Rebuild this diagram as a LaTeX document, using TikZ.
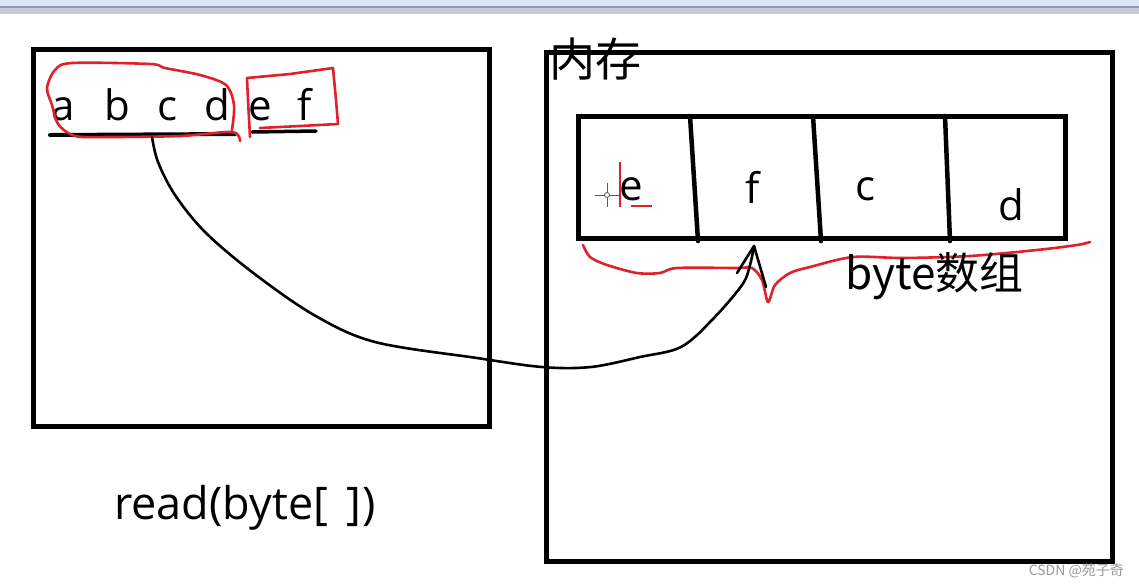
\documentclass[tikz,border=0pt]{standalone}
\usepackage{fontspec}
\usetikzlibrary{calc}
\setmainfont{Open Sans}
\newfontfamily\cjk{Noto Sans CJK SC}
\definecolor{redpen}{HTML}{E0202A}
\definecolor{barblue}{HTML}{DCE6F4}
\definecolor{bargray}{HTML}{C4CCDA}
\definecolor{barline}{HTML}{8E99A8}
\begin{document}
\begin{tikzpicture}[x=1pt,y=-1pt,
  box/.style={draw=black,line width=5pt,inner sep=0pt,outer sep=0pt,anchor=north west},
  ltr/.style={font=\fontsize{42}{48}\selectfont,inner sep=0pt,anchor=base},
  pen/.style={line width=2.6pt,line cap=round,line join=round},
  redline/.style={pen,draw=redpen},
  blackline/.style={pen,draw=black}]
\useasboundingbox (0,0) rectangle (1139,587);
\fill[white] (0,0) rectangle (1139,587);
% top bar
\fill[barblue] (0,0) rectangle (1139,6);
\fill[bargray] (0,7) rectangle (1139,14);
\fill[barline] (0,6) rectangle (1139,7.5);
% boxes
\node[box,minimum width=456pt,minimum height=377pt] (left) at (33,49) {};
\node[box,minimum width=566pt,minimum height=509pt] (right) at (546,52) {};
\node[box,minimum width=487pt,minimum height=122pt] (arr) at (578,116) {};
% dividers
\coordinate (d1t) at (690,116); \coordinate (d1b) at (698,241);
\coordinate (d2t) at (813,116); \coordinate (d2b) at (821,241);
\coordinate (d3t) at (945,116); \coordinate (d3b) at (950,241);
\draw[line width=4.5pt,line cap=round] (d1t) -- (d1b);
\draw[line width=4.5pt,line cap=round] (d2t) -- (d2b);
\draw[line width=4.5pt,line cap=round] (d3t) -- (d3b);
% letters in left box
\node[ltr] (la) at (63,120) {a};
\node[ltr] (lb) at (117,120) {b};
\node[ltr] (lc) at (167,120) {c};
\node[ltr] (ld) at (217,120) {d};
\node[ltr] (le) at (260,120) {e};
\node[ltr] (lf) at (305,120) {f};
% underlines
\coordinate (u1a) at (50,135); \coordinate (u1b) at (235,134);
\coordinate (u2a) at (252,132); \coordinate (u2b) at (316,131);
\draw[line width=4pt,line cap=round] (u1a) -- (u1b);
\draw[line width=3.5pt,line cap=round] (u2a) -- (u2b);
% red loops
\draw[redline] plot[smooth,tension=0.5] coordinates {(240,141) (232,132) (180,136) (110,137) (75,136) (58,124) (52,105) (47,88) (55,70) (72,63) (150,64) (165,68) (200,75) (226,85) (234,105) (232,130)};
\draw[redline] (250,137) -- (248,100) -- (247,78) -- (290,74) -- (333,68) -- (336,100) -- (338,124) -- (300,126) -- (260,128);
% array letters
\node[ltr] (ae) at (631,200) {e};
\node[ltr] (af) at (753,203) {f};
\node[ltr] (ac) at (865,200) {c};
\node[ltr] (ad) at (1011,220) {d};
% cursor
\coordinate (cur) at (607,195);
\draw[gray!70!black,line width=1pt] ($(cur)+(-12,0)$) -- ($(cur)+(12,0)$) ($(cur)+(0,-12)$) -- ($(cur)+(0,12)$);
\draw[gray!70!black,fill=white,line width=0.8pt] (cur) circle (2.5);
\coordinate (rc1) at (620,162); \coordinate (rc2) at (620,207);
\draw[redpen,line width=2.5pt] (rc1) -- (rc2);
\coordinate (ru1) at (631,206); \coordinate (ru2) at (652,206);
\draw[redpen,line width=2pt] (ru1) -- (ru2);
% red brace
\draw[redline] plot[smooth,tension=0.5] coordinates {(583,245) (590,257) (607,265) (637,273) (660,273) (677,268) (737,268) (752,268) (762,280) (768,302) (775,285) (790,273) (810,267) (853,257) (903,258) (970,256) (1037,250) (1077,245) (1090,242)};
% black curve with open arrowhead
\coordinate (tip) at (754,246);
\draw[blackline] plot[smooth,tension=0.55] coordinates {(152,137) (158,162) (175,195) (205,232) (252,272) (314,315) (375,342) (477,358) (542,367) (591,367) (640,357) (681,347) (712,320) (742,285) (750,265) (754,246)};
\draw[blackline] (tip) -- (737,273);
\draw[blackline] (tip) -- (766,287);
% labels
\node[font=\cjk\fontsize{46}{50}\selectfont,inner sep=0pt,anchor=west] (mem) at (549,59) {内存};
\node[font=\cjk\fontsize{44}{50}\selectfont,inner sep=0pt,anchor=base west] (barr) at (845,289) {byte数组};
\node[font=\fontsize{45}{50}\selectfont,inner sep=0pt,anchor=base west] (read) at (114,519) {read(byte[\hspace{18pt}]\hspace{2pt})};
\node[font=\cjk\fontsize{14}{16}\selectfont,text=gray!80,inner sep=0pt,anchor=base east] (wm) at (1124,575) {CSDN @苑子奇};
\end{tikzpicture}
\end{document}
